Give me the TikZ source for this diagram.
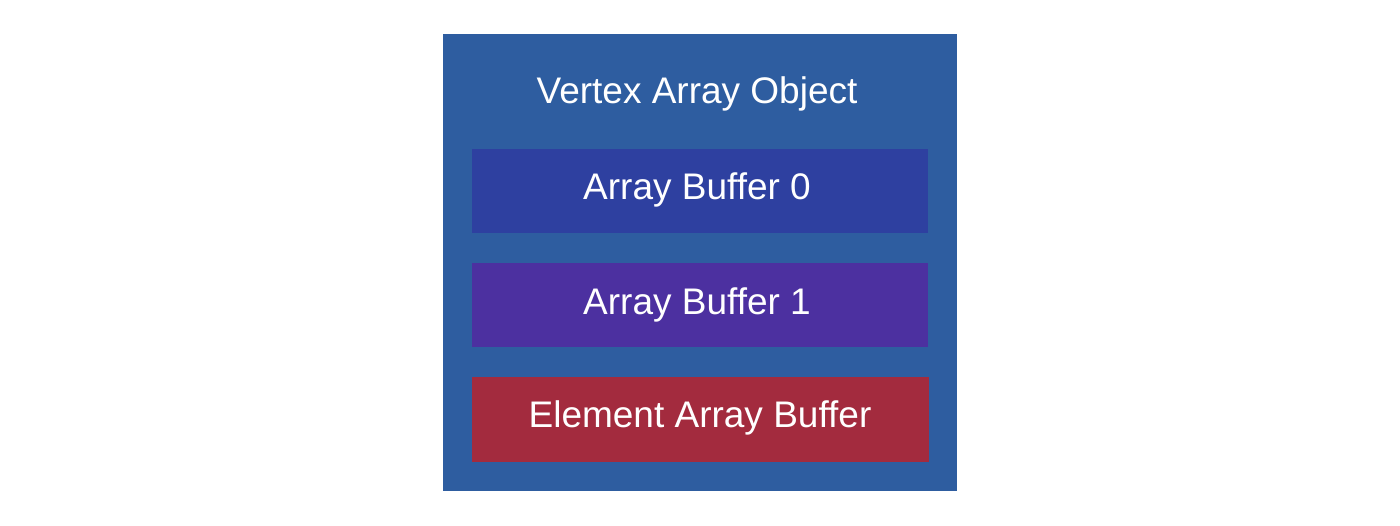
\documentclass[tikz,border=0pt]{standalone}
\usepackage{fontspec}
\setmainfont{Liberation Sans}
\usepackage{xcolor}
\definecolor{vao_blue}{HTML}{2E5DA0}
\definecolor{buf_blue}{HTML}{2E40A0}
\definecolor{buf_purple}{HTML}{4C30A0}
\definecolor{buf_red}{HTML}{A32B3E}

\begin{document}
\begin{tikzpicture}[x=1pt, y=-1pt, label text/.style={text=white, anchor=base, inner sep=0pt, font=\fontsize{37}{40}\selectfont}]
	\useasboundingbox (0, 0) rectangle (1400, 525);
	\fill[white] (0, 0) rectangle (1400, 525);
	\coordinate (O1) at (443, 34);
	\coordinate (O2) at (957, 491);
	\fill[vao_blue] (O1) rectangle (O2);
	\node[label text] (vao) at (697, 103) {Vertex Array Object};
	\fill[buf_blue] (472, 149) rectangle (928, 233);
	\node[label text] (buf0) at (697, 199) {Array Buffer 0};
	\fill[buf_purple] (472, 263) rectangle (928, 347);
	\node[label text] (buf1) at (697, 314) {Array Buffer 1};
	\fill[buf_red] (472, 377) rectangle (929, 462);
	\node[label text] (ebo) at (700, 427) {Element Array Buffer};
\end{tikzpicture}
\end{document}
